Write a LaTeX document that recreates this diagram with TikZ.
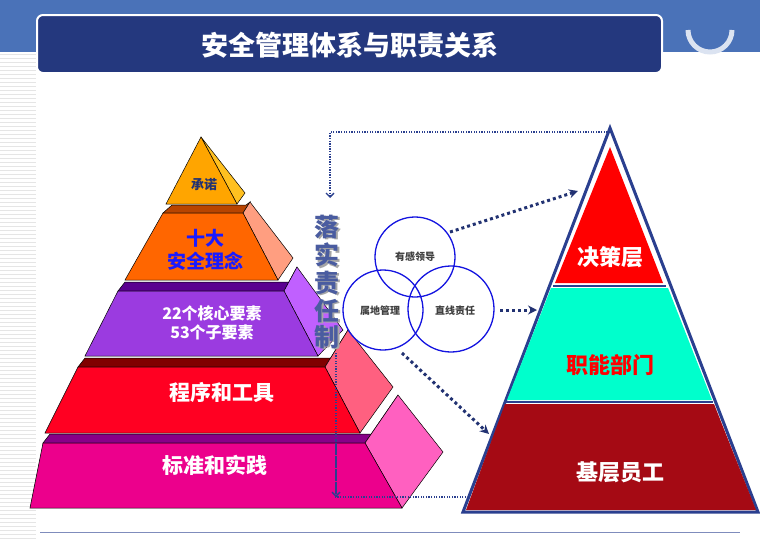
\documentclass[tikz,border=0pt]{standalone}
\usepackage{fontspec}
\setmainfont{Noto Sans CJK SC}
\usetikzlibrary{arrows.meta}
\definecolor{navy}{HTML}{2A3F8F}
\definecolor{bandblue}{HTML}{4A72B8}
\definecolor{banner}{HTML}{24387E}
\definecolor{circ}{HTML}{1414E0}
\definecolor{cyanf}{HTML}{00FFCC}
\definecolor{darkredf}{HTML}{A50A14}
\tikzset{
  face/.style={draw=black,line width=0.5pt},
  tiertxt/.style={font=\bfseries,text=white,align=center},
  vchar/.style={font=\bfseries\fontsize{25}{25}\selectfont,text=navy!85},
  thin dots/.style={navy,line width=1.3pt,dash pattern=on 1.3pt off 1.3pt,-{Straight Barb[length=4pt,width=8pt]}},
  thick dots/.style={navy!80!black,line width=3pt,dash pattern=on 3pt off 3pt,-{Stealth[length=9pt,width=9pt]}},
  ring/.style={circle,draw=circ,line width=1.3pt,inner sep=0pt},
  ringtxt/.style={font=\bfseries\fontsize{10}{10}\selectfont,text=black!75}
}
\begin{document}
\begin{tikzpicture}[x=1pt,y=-1pt]
\useasboundingbox (0,0) rectangle (760,541);
\fill[white] (0,0) rectangle (760,541);
% header
\fill[bandblue] (0,0) rectangle (760,52);
\foreach \y in {54,58,...,540} \draw[black!10,line width=1pt] (0,\y) -- (36,\y);
\draw[white!80!bandblue,line width=5pt] (688,30) arc[start angle=180,end angle=0,radius=22];
\fill[banner,draw=white,line width=2pt,rounded corners=6pt] (37,15) rectangle (662,73);
\node[font=\bfseries\fontsize{27}{27}\selectfont,text=white] (title) at (350,45) {安全管理体系与职责关系};
\draw[navy!60,line width=0.8pt] (40,532) -- (740,532);

% tier 5
\filldraw[face,fill={rgb,255:red,136;green,0;blue,136}] (43,443) -- (50,434) -- (372,434) -- (398,395) -- (365,443) -- cycle;
\filldraw[face,fill={rgb,255:red,255;green,96;blue,192}] (365,443) -- (398,395) -- (443,452) -- (402,508) -- cycle;
\filldraw[face,fill=magenta] (43,443) -- (365,443) -- (402,508) -- (30,508) -- cycle;
\node[tiertxt,font=\bfseries\fontsize{21}{21}\selectfont] (t5) at (215,465) {标准和实践};
% tier 4
\filldraw[face,fill={rgb,255:red,128;green,0;blue,0}] (78,367) -- (85,358) -- (332,358) -- (348,330) -- (325,367) -- cycle;
\filldraw[face,fill={rgb,255:red,255;green,96;blue,128}] (325,367) -- (348,330) -- (393,387) -- (360,433) -- cycle;
\filldraw[face,fill={rgb,255:red,255;green,0;blue,34}] (78,367) -- (325,367) -- (360,433) -- (45,433) -- cycle;
\node[tiertxt,font=\bfseries\fontsize{21}{21}\selectfont] (t4) at (222,392) {程序和工具};
% tier 3
\filldraw[face,fill={rgb,255:red,90;green,0;blue,144}] (118,291) -- (125,282) -- (290,282) -- (297,267) -- (284,291) -- cycle;
\filldraw[face,fill={rgb,255:red,192;green,96;blue,255}] (284,291) -- (297,267) -- (343,330) -- (318,356) -- cycle;
\filldraw[face,fill={rgb,255:red,155;green,59;blue,224}] (118,291) -- (284,291) -- (318,356) -- (85,356) -- cycle;
\node[tiertxt,font=\bfseries\fontsize{16}{19}\selectfont] (t3) at (212,323) {22个核心要素\\53个子要素};
% tier 2
\filldraw[face,fill={rgb,255:red,184;green,68;blue,0}] (163,213) -- (172,205) -- (246,205) -- (250,202) -- (243,213) -- cycle;
\filldraw[face,fill={rgb,255:red,255;green,158;blue,128}] (243,213) -- (250,202) -- (293,258) -- (278,280) -- cycle;
\filldraw[face,fill={rgb,255:red,255;green,102;blue,0}] (163,213) -- (243,213) -- (278,280) -- (125,280) -- cycle;
\node[font=\bfseries\fontsize{19}{23}\selectfont,text={rgb,255:red,26;green,26;blue,255},align=center] (t2) at (205,250) {十大\\安全理念};
% tier 1
\filldraw[face,fill={rgb,255:red,255;green,192;blue,32}] (201,137) -- (245,193) -- (237,204) -- cycle;
\filldraw[face,fill={rgb,255:red,255;green,165;blue,0}] (201,137) -- (237,204) -- (166,204) -- cycle;
\node[font=\bfseries\fontsize{13}{13}\selectfont,text=navy!80!black] (t1) at (204,185) {承诺};

% right triangle
\filldraw[fill=white,draw=navy,line width=3pt,line join=miter] (610,128) -- (758,512) -- (463,512) -- cycle;
\fill[red] (610,147) -- (663,283) -- (555,283) -- cycle;
\fill[cyanf] (551,288) -- (668,288) -- (712,400) -- (507,400) -- cycle;
\fill[darkredf] (505,404) -- (714,404) -- (756,510) -- (466,510) -- cycle;
\draw[navy,line width=2pt] (553,285.5) -- (666,285.5);
\draw[navy,line width=2.5pt] (506,402) -- (713,402);
\coordinate (apex) at (610,132);
\coordinate (baseL) at (466,497);
\node[font=\bfseries\fontsize{22}{22}\selectfont,text=white] (r1) at (610,257) {决策层};
\node[font=\bfseries\fontsize{22}{22}\selectfont,text=red] (r2) at (610,365) {职能部门};
\node[font=\bfseries\fontsize{22}{22}\selectfont,text=white] (r3) at (620,472) {基层员工};

% vertical text
\foreach \c/\y in {落/227,实/255,责/283,任/311,制/337} {
  \node[vchar,text=black!35] at (328.5,\y+1.5) {\c};
  \node[vchar] at (327,\y) {\c};
}

% thin dotted connectors
\coordinate (c1) at (330,132);
\coordinate (d1) at (330,198);
\draw[thin dots] (apex) -- (c1) -- (d1);
\coordinate (c2) at (336,352);
\coordinate (c3) at (336,497);
\draw[thin dots,-] (baseL) -- (c3) -- (c2);
\draw[thin dots] (336,440) -- (c3);

% circles
\node[ring,minimum size=80pt] (C1) at (415,257) {};
\node[ring,minimum size=80pt] (C2) at (383,310) {};
\node[ring,minimum size=86pt] (C3) at (451,309) {};
\node[ringtxt] (l1) at (415,257) {有感领导};
\node[ringtxt] (l2) at (380,311) {属地管理};
\node[ringtxt] (l3) at (455,311) {直线责任};

% thick dotted arrows
\coordinate (e1) at (578,191);
\coordinate (e2) at (537,310);
\coordinate (e3) at (489,434);
\draw[thick dots] (450,232) -- (e1);
\draw[thick dots] (500,310) -- (e2);
\draw[thick dots] (402,353) -- (e3);
\end{tikzpicture}
\end{document}
